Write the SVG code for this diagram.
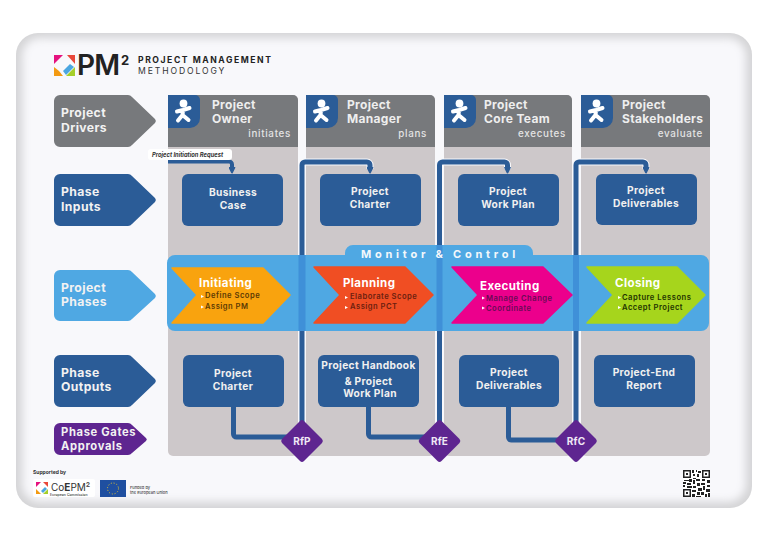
<svg xmlns="http://www.w3.org/2000/svg" width="768" height="543" viewBox="0 0 768 543">
<style>
text{font-family:Inter,"Open Sans","Liberation Sans",sans-serif;font-weight:700}
.hd{fill:#eeeeee;font-size:12px;letter-spacing:.32px}
.side{fill:#f2f2f2;font-size:12.2px;letter-spacing:.4px}
.verb{fill:#e4e4e4;font-size:9.800px;font-weight:500;letter-spacing:.7px;text-anchor:end}
.box{fill:#2b5c97}
.boxt{fill:#f0f0f0;font-size:10.200px;letter-spacing:.35px;text-anchor:middle}
.ph{fill:#fff;font-size:11.500px;letter-spacing:.4px}
.bl{font-size:7.600px;letter-spacing:.5px;font-weight:600}
.dia{fill:#5e2590}
.diat{fill:#f0e8f5;font-size:10px;text-anchor:middle;letter-spacing:.2px}
.ln{fill:none;stroke:#2b5c97;stroke-width:5;stroke-linejoin:round}
.halo{fill:none;stroke:#f8f8fb;stroke-width:7}
.col{fill:#cdc8ca}
.head{fill:#77797c}
.strip{fill:#3f90d8}
</style>
<defs>
<filter id="soft" x="-5%" y="-5%" width="110%" height="110%"><feGaussianBlur stdDeviation="4"/></filter>
<clipPath id="cardclip"><rect x="16" y="33" width="736" height="475" rx="22"/></clipPath>
<marker id="tip" viewBox="0 0 10 10" refX="3" refY="5" markerUnits="userSpaceOnUse" markerWidth="7" markerHeight="7" orient="auto"><path d="M1 1.500 L8 5 L1 8.500Z" fill="#2b5c97" stroke="#2b5c97" stroke-width="2.500" stroke-linejoin="round"/></marker>
<g id="person">
<path d="M0 0 h27 a5 5 0 0 1 5 5 v18 a10 10 0 0 1 -10 10 h-22z" fill="#2b5c97"/>
<circle cx="15.500" cy="8.500" r="3.900" fill="#fff"/>
<path d="M9 16.500 L15 15 L21.500 13 M15 15 L14.500 20 L10 25.500 M14.500 20 L20.500 25" fill="none" stroke="#fff" stroke-width="4" stroke-linecap="round" stroke-linejoin="round"/>
</g>
</defs>
<rect width="768" height="543" fill="#fff"/>
<g id="card">
<rect x="16" y="33" width="736" height="475" rx="22" fill="#d4d4d6"/>
<g clip-path="url(#cardclip)"><rect x="22" y="38" width="724" height="464" rx="18" fill="#f8f8fb" filter="url(#soft)"/></g>
</g>
<g id="logo">
<path d="M54 55h9l-4 4-5 5z" fill="#e5127f"/>
<path d="M67 55h8v9z" fill="#e9483a"/>
<path d="M54 67l5 4 4 5h-9z" fill="#f39a12"/>
<path d="M66 76l9-9v9z" fill="#a6cf2a"/>
<path d="M66 75l8-8-4-3-7 7z" fill="#4ba6e0"/>
<text x="77" y="75" font-size="28" style="font-weight:600;fill:#222;letter-spacing:-.8px">PM</text>
<text x="121" y="65" font-size="13" style="font-weight:700;fill:#222">2</text>
<text x="138" y="63" font-size="8.600" style="font-weight:700;fill:#222;letter-spacing:1.56px">PROJECT MANAGEMENT</text>
<text x="138" y="74" font-size="8.600" style="font-weight:400;fill:#333;letter-spacing:1.9px">METHODOLOGY</text>
</g>
<g id="col-owner"><rect class="col" x="168" y="95" width="130" height="361" rx="5"/><path class="head" d="M173 95h120a5 5 0 0 1 5 5v47H168v-47a5 5 0 0 1 5-5z"/><use href="#person" x="168" y="95"/><text class="hd" x="212" y="109">Project</text><text class="hd" x="212" y="122.500">Owner</text><text class="verb" x="291" y="137">initiates</text></g>
<g id="col-manager"><rect class="col" x="306" y="95" width="129" height="361" rx="5"/><path class="head" d="M311 95h119a5 5 0 0 1 5 5v47H306v-47a5 5 0 0 1 5-5z"/><use href="#person" x="306" y="95"/><text class="hd" x="347" y="109">Project</text><text class="hd" x="347" y="122.500">Manager</text><text class="verb" x="427" y="137">plans</text></g>
<g id="col-team"><rect class="col" x="444" y="95" width="128" height="361" rx="5"/><path class="head" d="M449 95h118a5 5 0 0 1 5 5v47H444v-47a5 5 0 0 1 5-5z"/><use href="#person" x="444" y="95"/><text class="hd" x="484" y="109">Project</text><text class="hd" x="484" y="122.500">Core Team</text><text class="verb" x="566" y="137">executes</text></g>
<g id="col-stake"><rect class="col" x="581" y="95" width="129" height="361" rx="5"/><path class="head" d="M586 95h119a5 5 0 0 1 5 5v47H581v-47a5 5 0 0 1 5-5z"/><use href="#person" x="581" y="95"/><text class="hd" x="622" y="109">Project</text><text class="hd" x="622" y="122.500">Stakeholders</text><text class="verb" x="703" y="137">evaluate</text></g>
<g id="side-drivers"><path d="M60 95h68a6 6 0 0 1 4 2l23 22a3 3 0 0 1 0 4l-23 22a6 6 0 0 1-4 2H60a6 6 0 0 1-6-6V101a6 6 0 0 1 6-6z" fill="#77797c"/><text class="side" x="61" y="116.500">Project</text><text class="side" x="61" y="131.500">Drivers</text></g>
<g id="side-inputs"><path d="M60 174h68a6 6 0 0 1 4 2l23 22a3 3 0 0 1 0 4l-23 22a6 6 0 0 1-4 2H60a6 6 0 0 1-6-6V180a6 6 0 0 1 6-6z" fill="#2b5c97"/><text class="side" x="61" y="195.500">Phase</text><text class="side" x="61" y="210.500">Inputs</text></g>
<g id="side-phases"><path d="M60 270h68a6 6 0 0 1 4 2l23 22a3 3 0 0 1 0 4l-23 21a6 6 0 0 1-4 2H60a6 6 0 0 1-6-6V276a6 6 0 0 1 6-6z" fill="#4fa8e3"/><text class="side" x="61" y="291.500">Project</text><text class="side" x="61" y="305.500">Phases</text></g>
<g id="side-outputs"><path d="M60 355h68a6 6 0 0 1 4 2l23 22a3 3 0 0 1 0 4l-23 22a6 6 0 0 1-4 2H60a6 6 0 0 1-6-6V361a6 6 0 0 1 6-6z" fill="#2b5c97"/><text class="side" x="61" y="376.500">Phase</text><text class="side" x="61" y="390.500">Outputs</text></g>
<g id="side-gates"><path d="M60 423h68a6 6 0 0 1 4 2l14 13a2 2 0 0 1 0 3l-14 12a6 6 0 0 1-4 2H60a6 6 0 0 1-6-6V429a6 6 0 0 1 6-6z" fill="#5e2590"/><text class="side" x="61" y="435.500" style="font-size:11.200px;letter-spacing:.65px">Phase Gates</text><text class="side" x="61" y="450" style="font-size:11.200px;letter-spacing:.65px">Approvals</text></g>
<g id="connectors">
<path class="halo" d="M302 420V165a3 3 0 0 1 3-3h62a3 3 0 0 1 3 3v4"/>
<path class="halo" d="M439.500 420V165a3 3 0 0 1 3-3h62a3 3 0 0 1 3 3v4"/>
<path class="halo" d="M576 420V165a3 3 0 0 1 3-3h64a3 3 0 0 1 3 3v4"/>
<path d="M302 425V165a3 3 0 0 1 3-3h62a3 3 0 0 1 3 3v4" class="ln" marker-end="url(#tip)"/>
<path d="M439.500 425V165a3 3 0 0 1 3-3h62a3 3 0 0 1 3 3v4" class="ln" marker-end="url(#tip)"/>
<path d="M576 425V165a3 3 0 0 1 3-3h64a3 3 0 0 1 3 3v4" class="ln" marker-end="url(#tip)"/>
<path d="M168 161.500h61a3 3 0 0 1 3 3v4.500" class="ln" style="stroke-width:4" marker-end="url(#tip)"/>
<path d="M233.500 407v27a3 3 0 0 0 3 3h65" class="ln"/>
<path d="M368.500 407v27a3 3 0 0 0 3 3h67" class="ln"/>
<path d="M508.500 407v30a3 3 0 0 0 3 3h64" class="ln"/>
</g>
<g id="label-request"><rect x="148" y="149" width="84" height="11" rx="3" fill="#fff"/><text x="152" y="156.500" style="font-size:5.800px;font-style:italic;fill:#333;font-weight:700">Project Initiation Request</text></g>
<g id="in-business"><rect class="box" x="182" y="174" width="101" height="52" rx="6"/><text class="boxt" x="233" y="196">Business</text><text class="boxt" x="233" y="209">Case</text></g>
<g id="in-charter"><rect class="box" x="320" y="174" width="101" height="52" rx="6"/><text class="boxt" x="370" y="195">Project</text><text class="boxt" x="370" y="208">Charter</text></g>
<g id="in-workplan"><rect class="box" x="458" y="174" width="101" height="52" rx="6"/><text class="boxt" x="508" y="195">Project</text><text class="boxt" x="508" y="208">Work Plan</text></g>
<g id="in-deliver"><rect class="box" x="596" y="174" width="101" height="51" rx="6"/><text class="boxt" x="646" y="194">Project</text><text class="boxt" x="646" y="207">Deliverables</text></g>
<g id="monitor">
<path d="M353 245h172a8 8 0 0 1 8 8v2h168a8 8 0 0 1 8 8v60a8 8 0 0 1-8 8H175a8 8 0 0 1-8-8v-60a8 8 0 0 1 8-8h170v-2a8 8 0 0 1 8-8z" fill="#4fa8e3"/>
<rect class="strip" x="298.500" y="255" width="7" height="76"/><rect class="strip" x="436.500" y="245" width="6" height="86"/><rect class="strip" x="573" y="255" width="6" height="76"/>
<text x="361" y="257.500" style="font-size:11px;fill:#f4f8fb;letter-spacing:3.75px">Monitor &amp; Control</text>
</g>
<g id="ph-initiating"><path d="M172 268H263L290 295L263 323H172L197 295Z" fill="#f9a30e" stroke="#f9a30e" stroke-width="1.500" stroke-linejoin="round"/><text class="ph" x="199" y="287">Initiating</text><path d="M201 295l3 1.500-3 1.500zM201 305.500l3 1.500-3 1.500z" fill="#fff"/><text class="bl" x="205" y="297.500" fill="#5c3a05">Define Scope</text><text class="bl" x="205" y="308.500" fill="#5c3a05">Assign PM</text></g>
<g id="ph-planning"><path d="M314 267H405L433 295L405 323H314L340 295Z" fill="#f04e23" stroke="#f04e23" stroke-width="1.500" stroke-linejoin="round"/><text class="ph" x="343" y="287">Planning</text><path d="M345 296l3 1.500-3 1.500zM345 306l3 1.500-3 1.500z" fill="#fff"/><text class="bl" x="350" y="298.500" fill="#6b1f10">Elaborate Scope</text><text class="bl" x="350" y="309" fill="#6b1f10">Assign PCT</text></g>
<g id="ph-executing"><path d="M452 267H543L572 295L543 323H452L478 295Z" fill="#ec008c" stroke="#ec008c" stroke-width="1.500" stroke-linejoin="round"/><text class="ph" x="480" y="290">Executing</text><path d="M482 296.500l3 1.500-3 1.500zM482 306.500l3 1.500-3 1.500z" fill="#fff"/><text class="bl" x="486" y="300.500" fill="#6a0a55">Manage Change</text><text class="bl" x="486" y="310.500" fill="#6a0a55">Coordinate</text></g>
<g id="ph-closing"><path d="M587 267H677L705 295L677 323H587L613 295Z" fill="#a6d51c" stroke="#a6d51c" stroke-width="1.500" stroke-linejoin="round"/><text class="ph" x="615" y="287">Closing</text><path d="M618 296l3 1.500-3 1.500zM618 306l3 1.500-3 1.500z" fill="#fff"/><text class="bl" x="622" y="300" fill="#223300">Capture Lessons</text><text class="bl" x="622" y="310" fill="#223300">Accept Project</text></g>
<g id="out-charter"><rect class="box" x="183" y="355" width="101" height="52" rx="6"/><text class="boxt" x="233" y="377">Project</text><text class="boxt" x="233" y="390">Charter</text></g>
<g id="out-handbook"><rect class="box" x="318" y="355" width="101" height="52" rx="6"/><text class="boxt" x="368.500" y="369">Project Handbook</text><text class="boxt" x="368.500" y="385">&amp; Project</text><text class="boxt" x="370" y="396.500">Work Plan</text></g>
<g id="out-deliver"><rect class="box" x="459" y="355" width="100" height="52" rx="6"/><text class="boxt" x="509" y="376">Project</text><text class="boxt" x="509" y="389">Deliverables</text></g>
<g id="out-report"><rect class="box" x="594" y="355" width="101" height="52" rx="6"/><text class="boxt" x="644" y="376">Project-End</text><text class="boxt" x="644" y="389">Report</text></g>
<g id="gate-rfp"><path class="dia" d="M300 421a3 3 0 0 1 4 0l18 18a3 3 0 0 1 0 4l-18 18a3 3 0 0 1-4 0l-18-18a3 3 0 0 1 0-4z"/><text class="diat" x="302" y="445">RfP</text></g>
<g id="gate-rfe"><path class="dia" d="M437.500 421a3 3 0 0 1 4 0l18 18a3 3 0 0 1 0 4l-18 18a3 3 0 0 1-4 0l-18-18a3 3 0 0 1 0-4z"/><text class="diat" x="439.500" y="445">RfE</text></g>
<g id="gate-rfc"><path class="dia" d="M574 421a3 3 0 0 1 4 0l18 18a3 3 0 0 1 0 4l-18 18a3 3 0 0 1-4 0l-18-18a3 3 0 0 1 0-4z"/><text class="diat" x="576" y="445">RfC</text></g>
<g id="supported">
<text x="33" y="474" style="font-size:5px;fill:#333;font-weight:700">Supported by</text>
<rect x="33" y="479" width="62" height="18" rx="2" fill="#fff"/>
<path d="M36 482h5l-5 5z" fill="#e5127f"/><path d="M43 482h5v5z" fill="#e9483a"/><path d="M36 489l5 5h-5z" fill="#f39a12"/><path d="M43 494l5-5v5z" fill="#a6cf2a"/><path d="M43 493l4-4-2-2-4 4z" fill="#4ba6e0"/>
<text x="51" y="491" style="font-size:10px;font-weight:400;fill:#333">Co<tspan style="font-weight:700">E</tspan>PM²</text>
<text x="50" y="495.500" style="font-size:3.500px;font-weight:500;fill:#333">European Commission</text>
<rect x="100" y="480" width="26" height="17" fill="#1f4fa0"/>
<circle cx="113" cy="488.500" r="5.500" fill="none" stroke="#e8c62a" stroke-width="1" stroke-dasharray="1 1.880"/>
<text x="130" y="489" style="font-size:4px;font-weight:500;fill:#444">Funded by</text>
<text x="130" y="494" style="font-size:4px;font-weight:500;fill:#444">the European Union</text>
</g>
<g id="qr">
<rect x="683" y="470" width="27" height="27" fill="#fff"/>
<path fill="#222" fill-rule="evenodd" d="M683 470h8v8h-8zM684.500 471.500v5h5v-5zM686 473h2v2h-2zM702 470h8v8h-8zM703.500 471.500v5h5v-5zM705 473h2v2h-2zM683 489h8v8h-8zM684.500 490.500v5h5v-5zM686 492h2v2h-2z"/>
<path fill="#222" d="M692 470h2v3h-2zM696 470h1v2h-1zM698 471h3v2h-3zM693 474h2v2h-2zM697 474h2v3h-2zM693 478h3v1h-3zM684 480h5v1h-5zM689 479h3v3h-3zM683 482h3v2h-3zM687 483h4v2h-4zM693 480h2v4h-2zM696 479h4v2h-4zM702 479h3v2h-3zM707 480h3v3h-3zM697 483h3v3h-3zM701 483h4v2h-4zM683 485h2v2h-2zM687 486h5v2h-5zM693 486h3v2h-3zM703 486h2v4h-2zM707 485h3v2h-3zM698 488h4v3h-4zM692 490h4v2h-4zM706 489h4v3h-4zM697 492h3v3h-3zM692 494h3v3h-3zM701 492h3v3h-3zM705 494h2v3h-2zM708 493h2v4h-2zM696 496h5v1h-5z"/>
</g>
</svg>
